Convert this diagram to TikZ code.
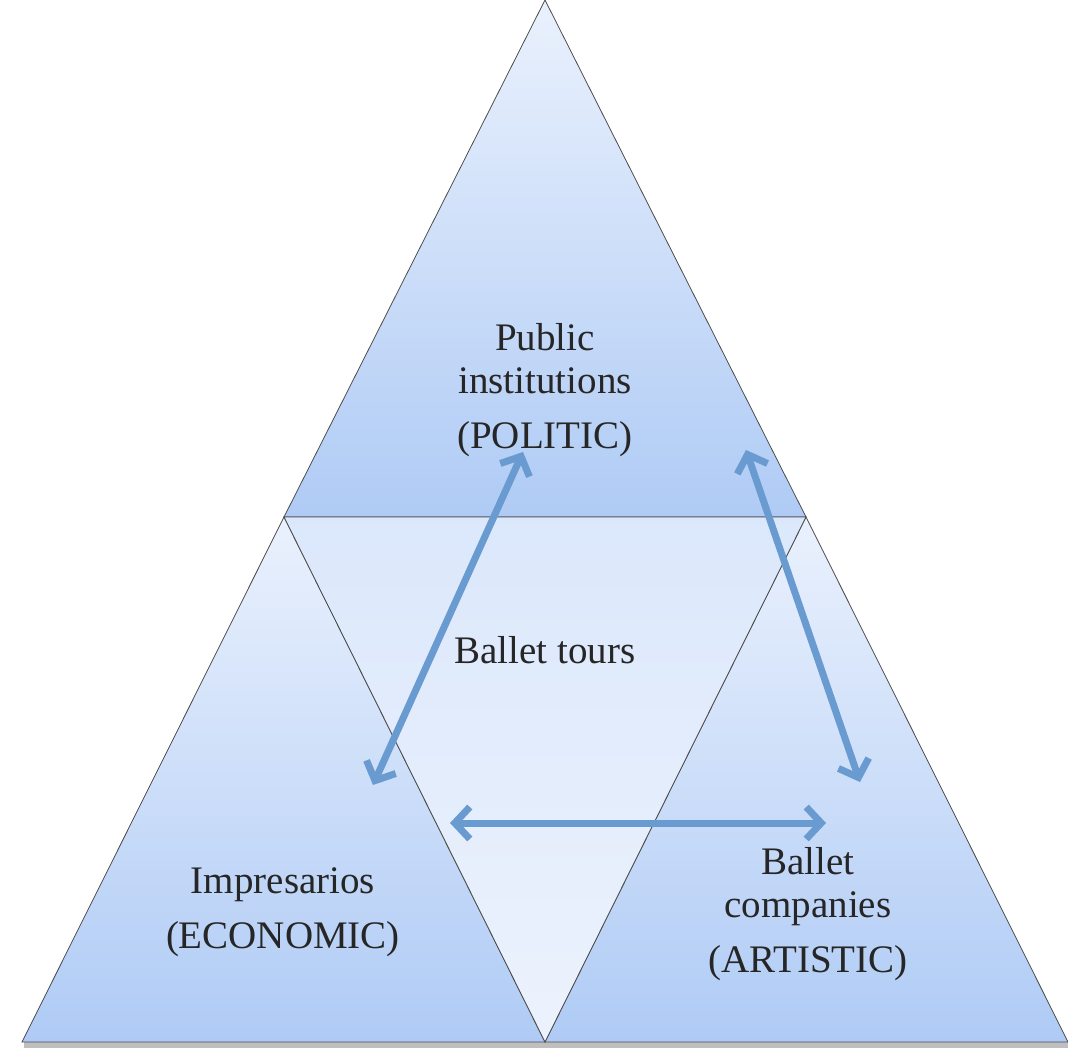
\documentclass[tikz,border=0pt]{standalone}
\usepackage{fontspec}
\setmainfont{Liberation Serif}
\usetikzlibrary{arrows.meta}
\definecolor{arr}{HTML}{6A9BD0}
\definecolor{topc}{HTML}{EAF1FD}
\definecolor{botc}{HTML}{AFCBF5}
\tikzset{tri/.style={draw=black!70,line width=0.8pt,top color=topc,bottom color=botc},
 link/.style={draw=arr,line width=7pt,{Straight Barb[length=15pt,width=32pt,line width=7pt]}-{Straight Barb[length=15pt,width=32pt,line width=7pt]}},
 lbl/.style={font=\fontsize{39}{43}\selectfont,align=center,text=black!85}}
\begin{document}
\begin{tikzpicture}[x=1pt,y=-1pt]
\useasboundingbox (0,0) rectangle (1068,1064);
\fill[black!25] (24,1042) -- (1068,1042) -- (1068,1048) -- (24,1048) -- cycle;
\coordinate (A) at (545,0);
\coordinate (L) at (22,1042);
\coordinate (R) at (1068,1042);
\coordinate (ML) at (284,517);
\coordinate (MR) at (806,517);
\coordinate (MB) at (545,1042);
\path[tri] (A) -- (ML) -- (MR) -- cycle;
\path[tri] (ML) -- (L) -- (MB) -- cycle;
\path[tri] (MR) -- (MB) -- (R) -- cycle;
\path[draw=black!70,line width=0.8pt,top color=topc!75!botc,bottom color=topc!90] (ML) -- (MR) -- (MB) -- cycle;
\node[lbl] (pol) at (545,390) {Public\\institutions\\[12pt](POLITIC)};
\node[lbl] (bt) at (545,650) {Ballet tours};
\node[lbl] (eco) at (283,912) {Impresarios\\[12pt](ECONOMIC)};
\node[lbl] (art) at (808,914) {Ballet\\companies\\[12pt](ARTISTIC)};
\coordinate (a1) at (523,452);
\coordinate (a2) at (373,785);
\coordinate (b1) at (746,450);
\coordinate (b2) at (860,782);
\coordinate (c1) at (450,823);
\coordinate (c2) at (826,823);
\draw[link] (a1) -- (a2);
\draw[link] (b1) -- (b2);
\draw[link] (c1) -- (c2);
\end{tikzpicture}
\end{document}
